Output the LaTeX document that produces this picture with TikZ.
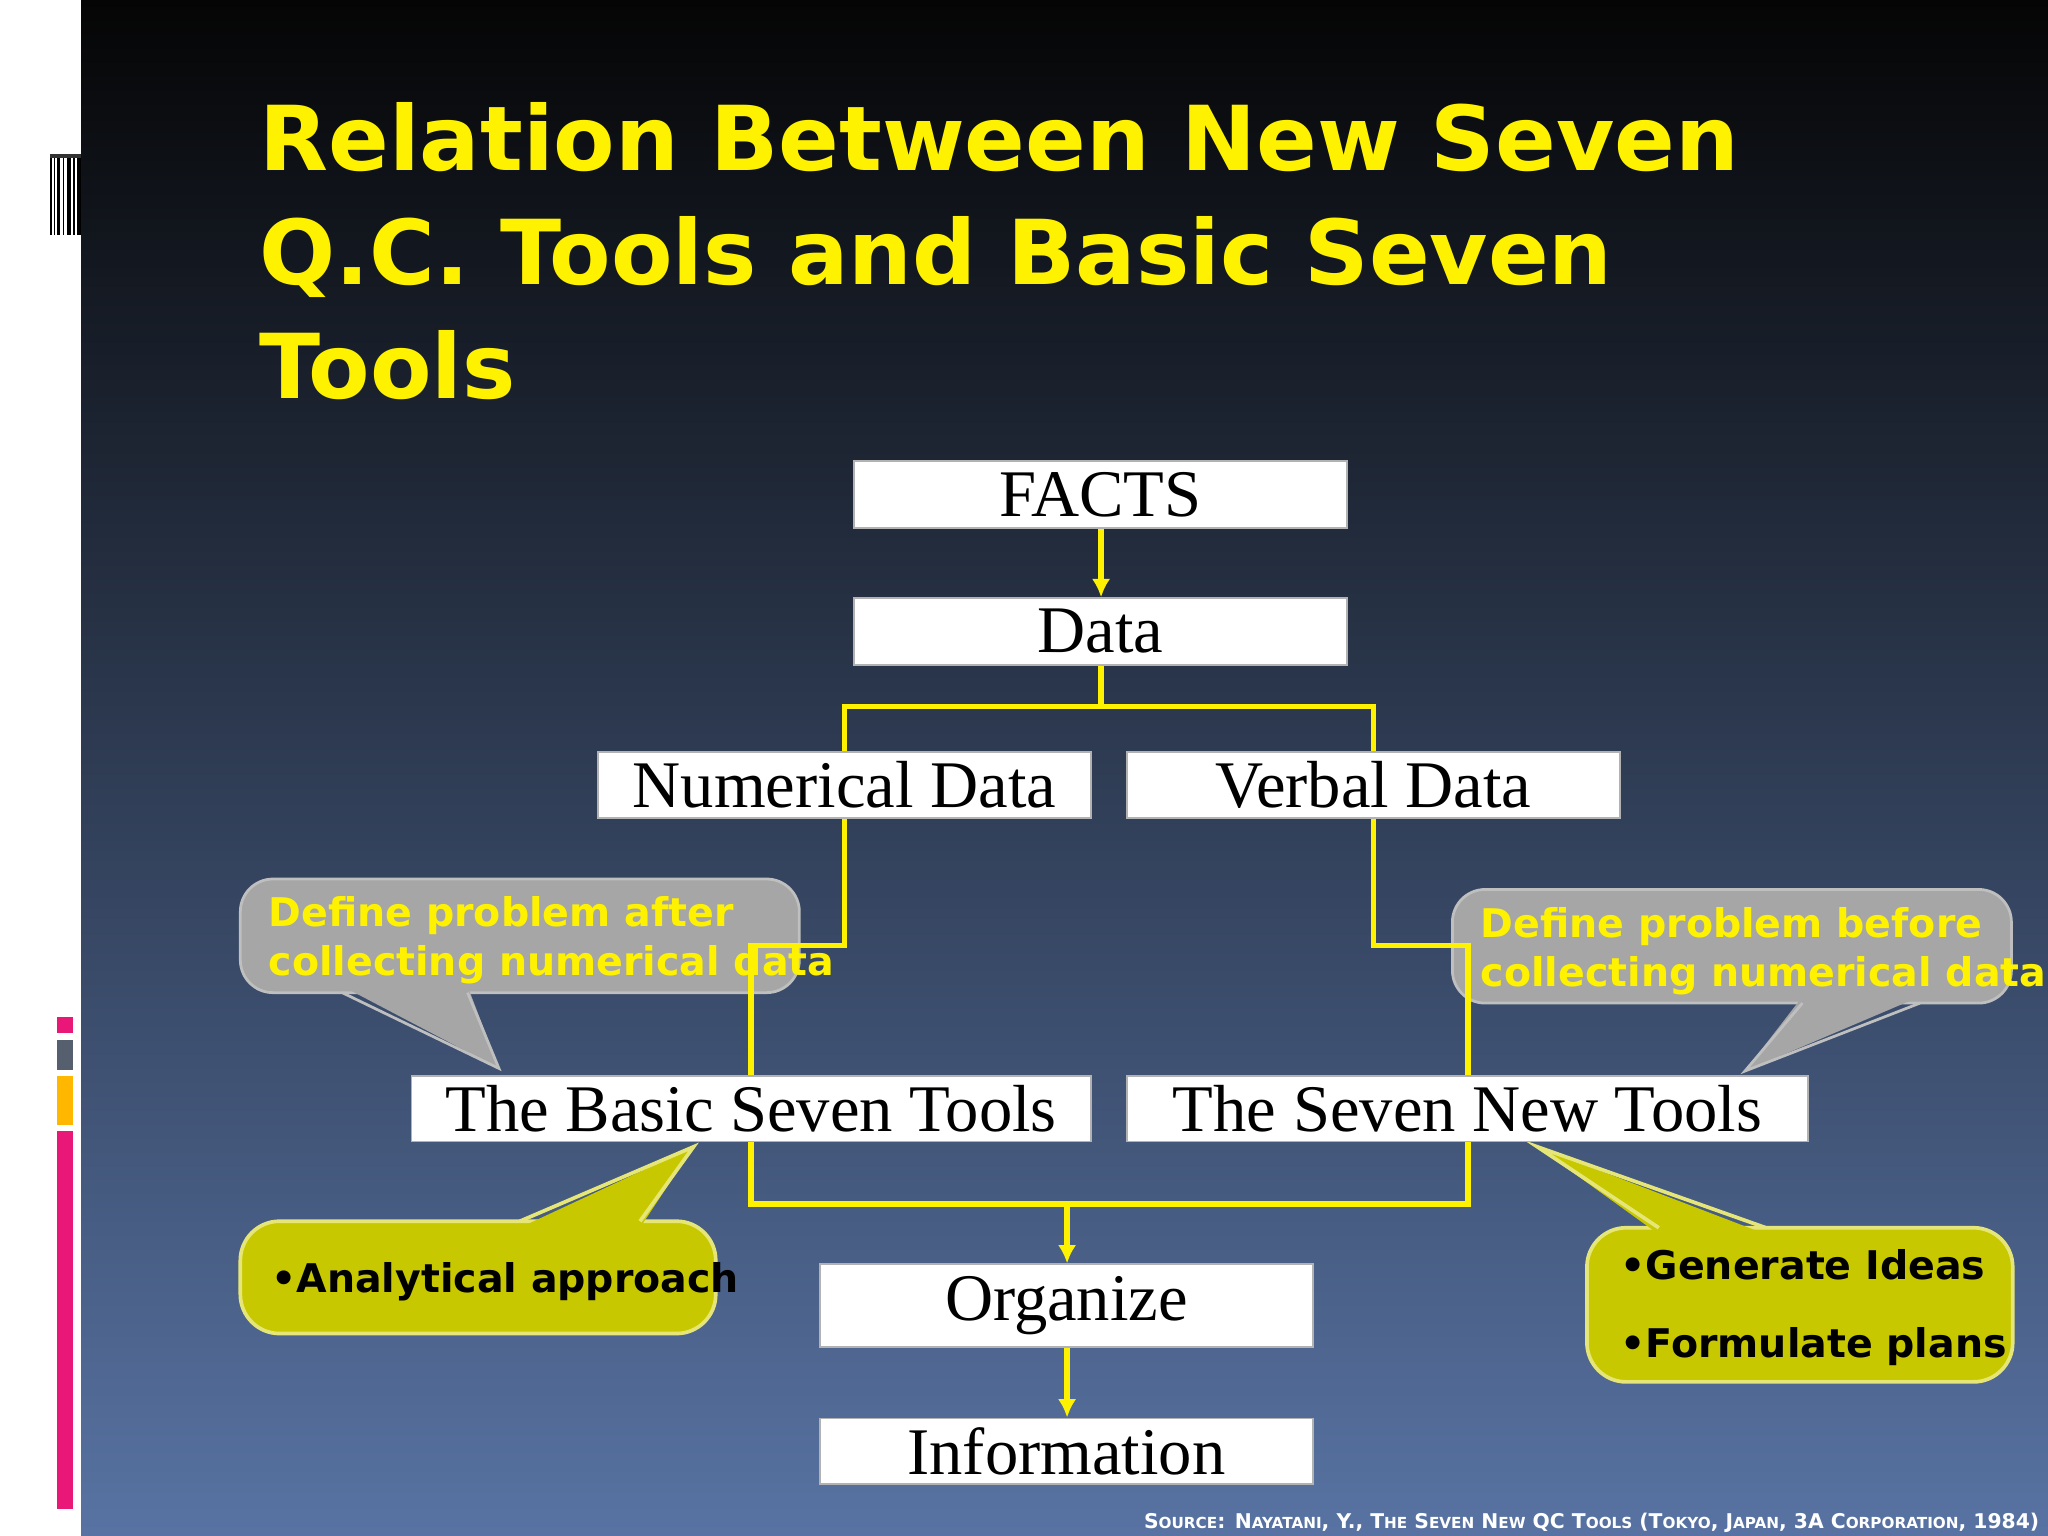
\documentclass[tikz,border=0pt]{standalone}
\usepackage{fontspec}
\setmainfont{Liberation Serif}
\newfontfamily\vfont{DejaVu Sans}
\usetikzlibrary{arrows.meta}
\definecolor{bgtop}{RGB}{5,5,5}
\definecolor{bgbot}{RGB}{88,115,163}
\definecolor{pinkc}{RGB}{233,24,120}
\definecolor{slatec}{RGB}{85,95,110}
\definecolor{orangec}{RGB}{255,183,0}
\definecolor{olive}{RGB}{200,200,0}
\definecolor{olivel}{RGB}{230,230,120}
\definecolor{greyf}{RGB}{166,166,166}
\begin{document}
\begin{tikzpicture}[x=0.01cm,y=-0.01cm,
  box/.style={draw=gray!60,fill=white,line width=0.4pt,inner sep=0pt,font=\fontsize{14.5}{16}\selectfont},
  yl/.style={draw=yellow,line width=1.2pt},
  ya/.style={yl,-{Latex[length=4pt,width=4pt]}},
  greyc/.style={fill=greyf,draw=gray!50,line width=0.6pt},
  olivec/.style={fill=olive,draw=olivel,line width=0.8pt},
  ctxt/.style={text=yellow,font=\vfont\bfseries\fontsize{8.6}{10.6}\selectfont,align=left,anchor=north west,inner sep=0pt},
  btxt/.style={text=black,font=\vfont\bfseries\fontsize{8.6}{14}\selectfont,align=left,anchor=north west,inner sep=0pt}]
\useasboundingbox (0,0) rectangle (1568,1176);
\shade[top color=bgtop,bottom color=bgbot] (62,0) rectangle (1568,1176);
\fill[white] (0,0) rectangle (62,1176);
% barcode
\foreach \xx/\ww in {38/1.5,41/1,44/2,48/1,51/3,56/1.5,59/3}{\fill[black] (\xx,118) rectangle (\xx+\ww,180);}
\fill[black!80] (38,118) rectangle (62,121);
% side strips
\fill[pinkc] (44,779) rectangle (56,791);
\fill[slatec] (44,796) rectangle (56,819);
\fill[orangec] (44,824) rectangle (56,861);
\fill[pinkc] (44,866) rectangle (56,1155);
% title
\node[anchor=north west,inner sep=0pt,text=yellow,font=\vfont\bfseries\fontsize{19.5}{24.8}\selectfont,align=left] (title) at (198,78)
 {Relation Between New Seven\\Q.C. Tools and Basic Seven\\Tools};
% callouts
\draw[greyc,rounded corners=0.25cm] (184,673) rectangle (612,760);
\fill[greyf] (262,755) -- (382,818) -- (358,755) -- cycle;
\draw[gray!50,line width=0.6pt] (262,760) -- (382,818) -- (358,760);
\node[ctxt] (c1) at (205,686) {Define problem after\\collecting numerical data};
\draw[greyc,rounded corners=0.25cm] (1112,681) rectangle (1540,768);
\fill[greyf] (1380,763) -- (1336,820) -- (1470,763) -- cycle;
\draw[gray!50,line width=0.6pt] (1380,768) -- (1336,820) -- (1470,768);
\node[ctxt] (c2) at (1133,694) {Define problem before\\collecting numerical data};
\draw[olivec,rounded corners=0.3cm] (184,935) rectangle (548,1021);
\fill[olive] (398,940) -- (531,878) -- (490,940) -- cycle;
\draw[olivel,line width=0.8pt] (398,935) -- (531,878) -- (490,935);
\node[btxt] (c3) at (207,966) {\textbullet Analytical approach};
\draw[olivec,rounded corners=0.3cm] (1215,940) rectangle (1541,1058);
\fill[olive] (1270,945) -- (1177,878) -- (1352,945) -- cycle;
\draw[olivel,line width=0.8pt] (1270,940) -- (1177,878) -- (1352,940);
\node[btxt] (c4) at (1240,956) {\textbullet Generate Ideas\\[3pt]\textbullet Formulate plans};
% boxes
\newcommand\bx[6]{\node[box,minimum width={(#4-#2)*0.01cm},minimum height={(#5-#3)*0.01cm}] (#1) at ({(#2+#4)/2},{(#3+#5)/2}) {#6};}
\bx{facts}{654}{353}{1031}{404}{FACTS}
\bx{data}{654}{458}{1031}{509}{Data}
\bx{num}{458}{576}{835}{626}{Numerical Data}
\bx{verb}{863}{576}{1240}{626}{Verbal Data}
\bx{basic}{315}{824}{835}{874}{The Basic Seven Tools}
\bx{new}{863}{824}{1384}{874}{The Seven New Tools}
\bx{org}{628}{968}{1005}{1031}{Organize}
\bx{info}{628}{1086}{1005}{1136}{Information}
% connectors
\coordinate (j1) at (843,541);
\coordinate (j2) at (817,922);
\coordinate (l1) at (575,724);
\coordinate (r1) at (1124,724);
\draw[ya] (facts.south -| j1) -- (data.north -| j1);
\draw[yl] (data.south -| j1) -- (j1);
\draw[yl] (num.north) -- (num.north |- j1) -- (verb.north |- j1) -- (verb.north);
\draw[yl] (num.south) -- (num.south |- l1) -- (l1) -- (basic.north -| l1);
\draw[yl] (verb.south) -- (verb.south |- r1) -- (r1) -- (new.north -| r1);
\draw[yl] (basic.south -| l1) -- (l1 |- j2) -- (r1 |- j2) -- (new.south -| r1);
\draw[ya] (j2) -- (org.north -| j2);
\draw[ya] (org.south -| j2) -- (info.north -| j2);
% source
\node[anchor=base east,inner sep=0pt,text=white] (src) at (1562,1170)
 {\resizebox{6.85cm}{!}{\vfont\bfseries\fontsize{6}{7}\selectfont S\scalebox{0.75}{OURCE}: N\scalebox{0.75}{AYATANI}, Y., T\scalebox{0.75}{HE} S\scalebox{0.75}{EVEN} N\scalebox{0.75}{EW} QC T\scalebox{0.75}{OOLS} (T\scalebox{0.75}{OKYO}, J\scalebox{0.75}{APAN}, 3A C\scalebox{0.75}{ORPORATION}, 1984)}};
\end{tikzpicture}
\end{document}
